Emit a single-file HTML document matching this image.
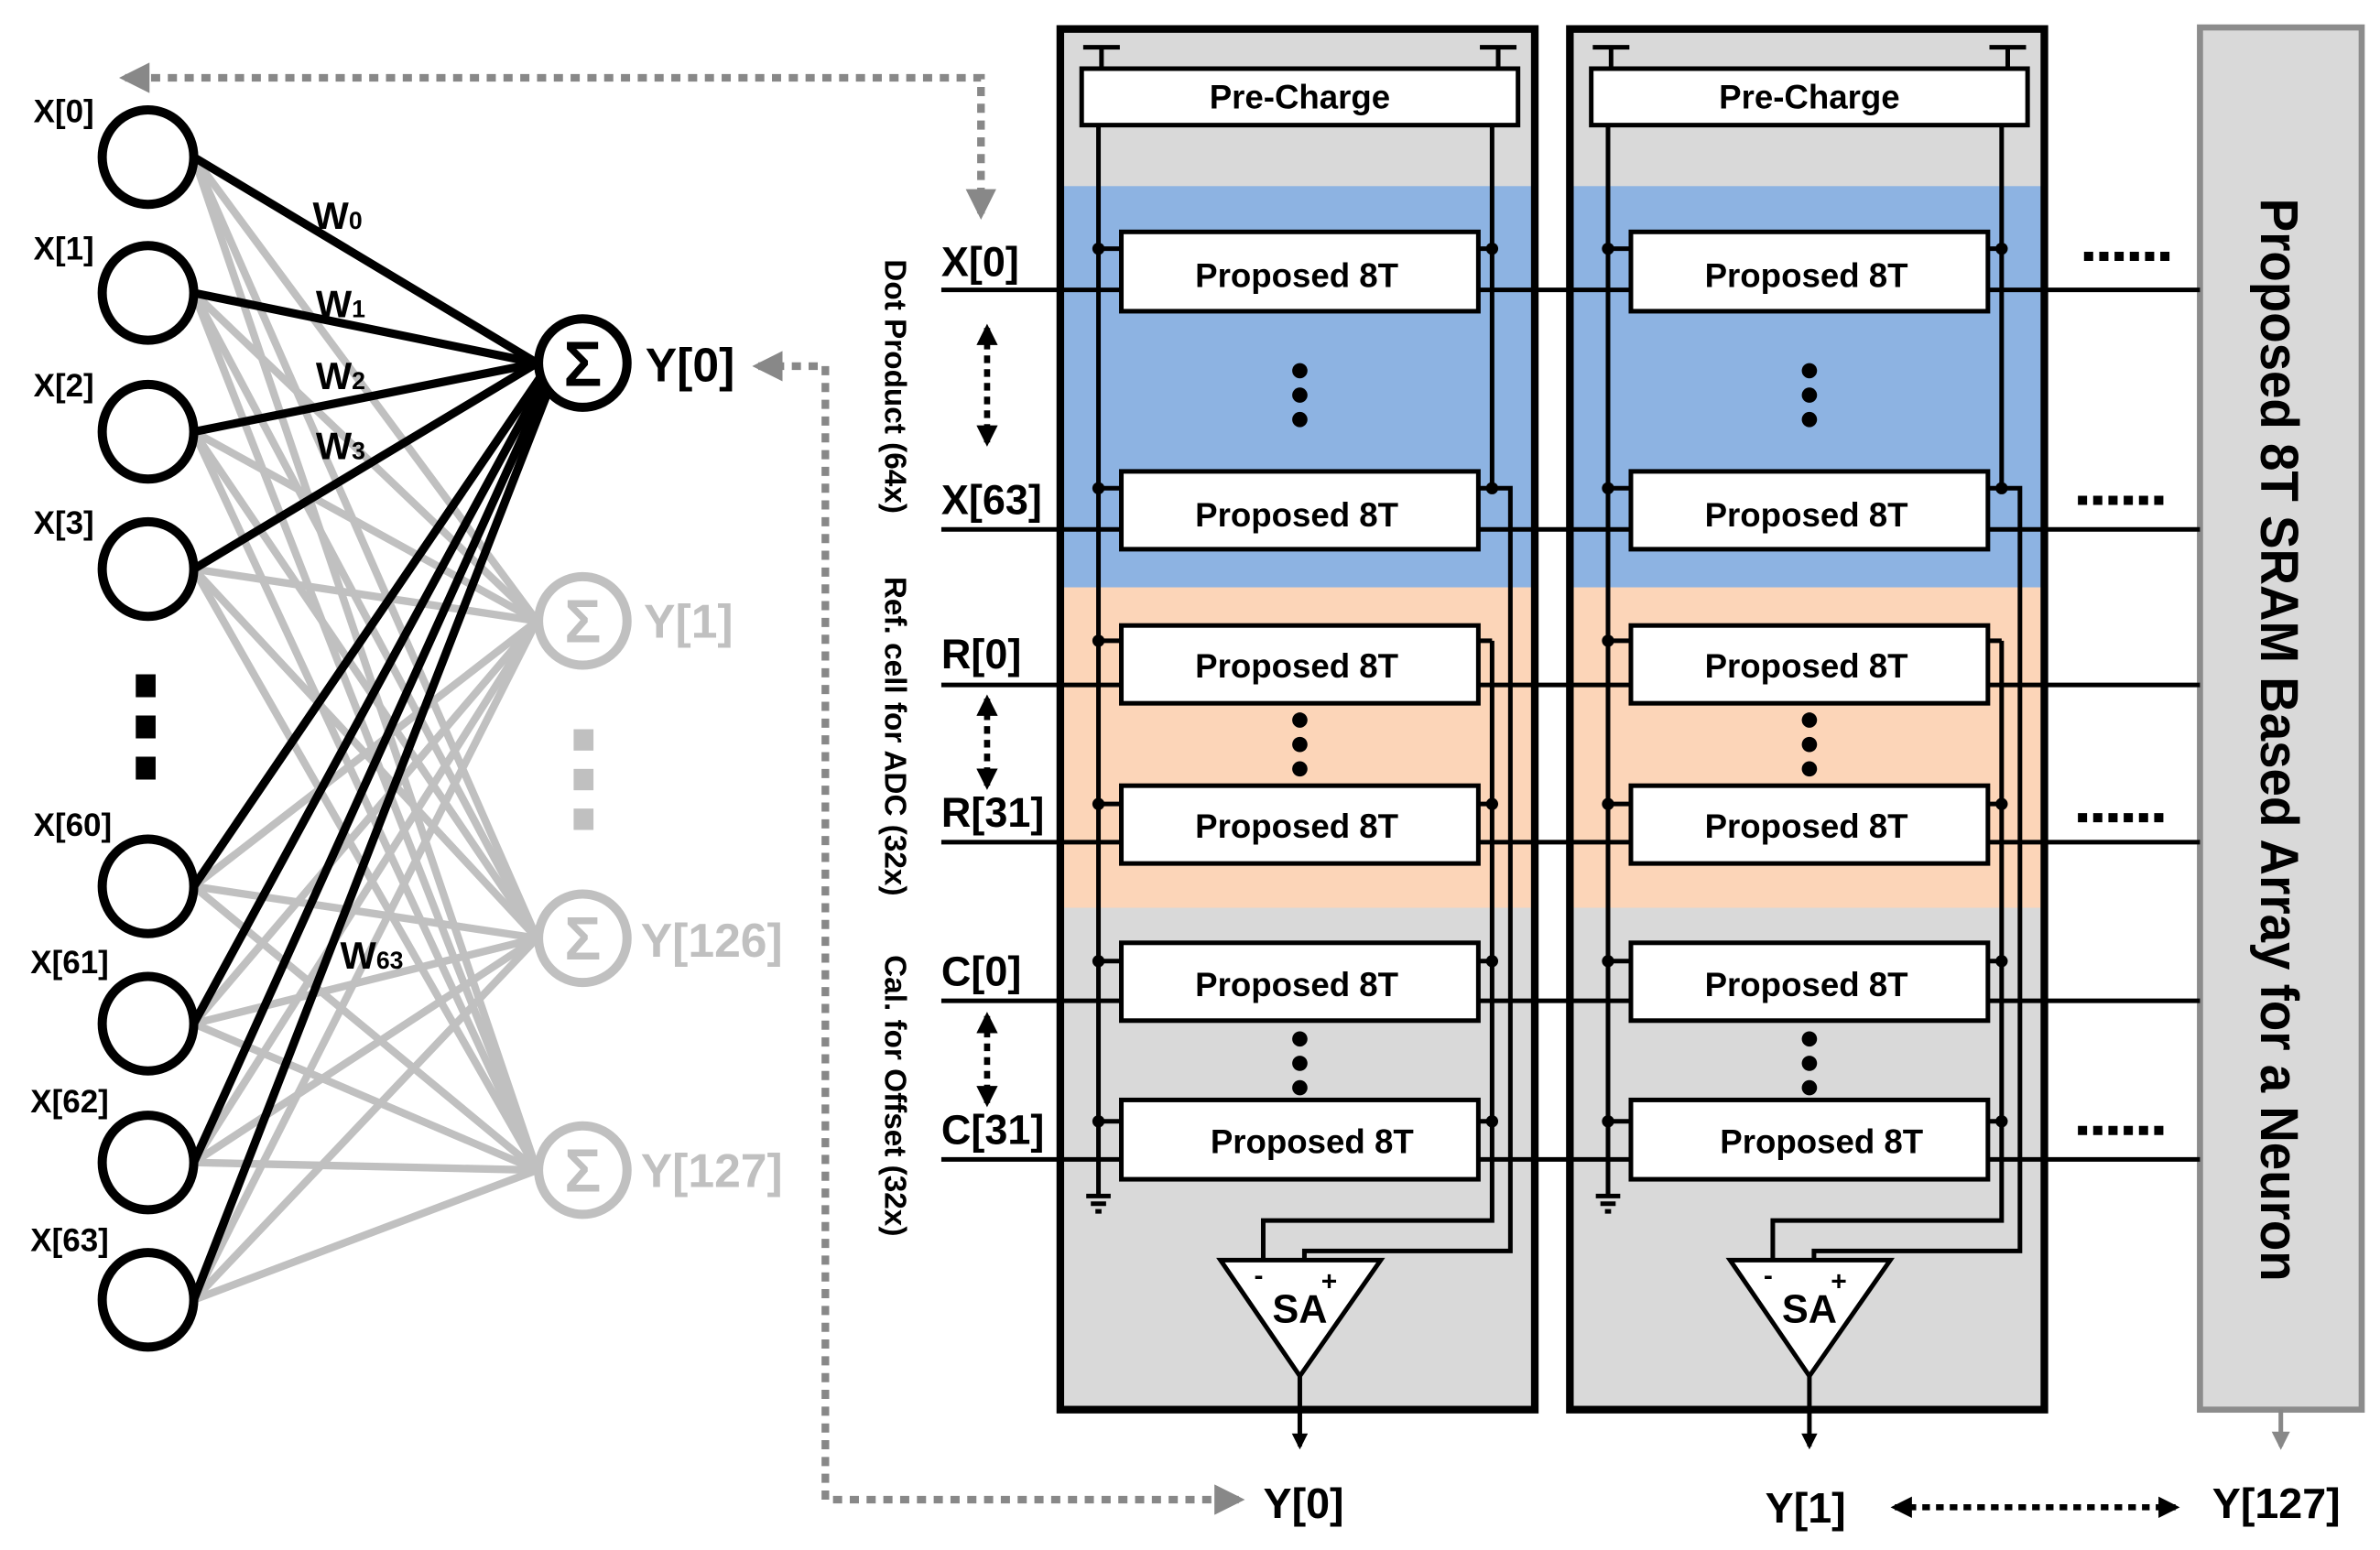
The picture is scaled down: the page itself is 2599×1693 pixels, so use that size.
<!DOCTYPE html>
<html><head><meta charset="utf-8"><style>
html,body{margin:0;padding:0;background:#fff;}
svg{display:block;}
text{font-family:"Liberation Sans Narrow","Liberation Sans",sans-serif;font-weight:bold;}
</style></head><body>
<svg width="2599" height="1693" viewBox="0 0 1560 1016" preserveAspectRatio="none" xmlns="http://www.w3.org/2000/svg">
<defs>
<marker id="ga" viewBox="0 0 10 10" refX="8" refY="5" markerWidth="4" markerHeight="4" orient="auto-start-reverse"><path d="M0,0L10,5L0,10z" fill="#888"/></marker>
<marker id="ba" viewBox="0 0 10 10" refX="8" refY="5" markerWidth="3.5" markerHeight="3.5" orient="auto-start-reverse"><path d="M0,0L10,5L0,10z" fill="#000"/></marker>
</defs>

<g stroke="#c0c0c0" stroke-width="5">
<line x1="127" y1="103" x2="352" y2="407"/><line x1="127" y1="103" x2="352" y2="615"/><line x1="127" y1="103" x2="352" y2="767"/>
<line x1="127" y1="192" x2="352" y2="407"/><line x1="127" y1="192" x2="352" y2="615"/><line x1="127" y1="192" x2="352" y2="767"/>
<line x1="127" y1="283" x2="352" y2="407"/><line x1="127" y1="283" x2="352" y2="615"/><line x1="127" y1="283" x2="352" y2="767"/>
<line x1="127" y1="373" x2="352" y2="407"/><line x1="127" y1="373" x2="352" y2="615"/><line x1="127" y1="373" x2="352" y2="767"/>
<line x1="127" y1="581" x2="352" y2="407"/><line x1="127" y1="581" x2="352" y2="615"/><line x1="127" y1="581" x2="352" y2="767"/>
<line x1="127" y1="671" x2="352" y2="407"/><line x1="127" y1="671" x2="352" y2="615"/><line x1="127" y1="671" x2="352" y2="767"/>
<line x1="127" y1="762" x2="352" y2="407"/><line x1="127" y1="762" x2="352" y2="615"/><line x1="127" y1="762" x2="352" y2="767"/>
<line x1="127" y1="852" x2="352" y2="407"/><line x1="127" y1="852" x2="352" y2="615"/><line x1="127" y1="852" x2="352" y2="767"/>
</g>
<g stroke="#000" stroke-width="5.5">
<line x1="127" y1="103" x2="352" y2="238"/><line x1="127" y1="192" x2="352" y2="238"/>
<line x1="127" y1="283" x2="352" y2="238"/><line x1="127" y1="373" x2="352" y2="238"/>
<line x1="127" y1="581" x2="355" y2="246"/><line x1="127" y1="671" x2="357" y2="248"/>
<line x1="127" y1="762" x2="359" y2="250"/><line x1="127" y1="852" x2="361" y2="252"/>
</g>
<g fill="#fff" stroke="#000" stroke-width="6">
<ellipse cx="97" cy="103" rx="30" ry="31"/><ellipse cx="97" cy="192" rx="30" ry="31"/>
<ellipse cx="97" cy="283" rx="30" ry="31"/><ellipse cx="97" cy="373" rx="30" ry="31"/>
<ellipse cx="97" cy="581" rx="30" ry="31"/><ellipse cx="97" cy="671" rx="30" ry="31"/>
<ellipse cx="97" cy="762" rx="30" ry="31"/><ellipse cx="97" cy="852" rx="30" ry="31"/>
</g>
<g font-size="21" fill="#000">
<text x="22" y="80">X[0]</text><text x="22" y="170">X[1]</text><text x="22" y="260">X[2]</text><text x="22" y="350">X[3]</text>
<text x="22" y="548">X[60]</text><text x="20" y="638">X[61]</text><text x="20" y="729">X[62]</text><text x="20" y="820">X[63]</text>
</g>
<g fill="#000"><rect x="89" y="442" width="13" height="15"/><rect x="89" y="469" width="13" height="15"/><rect x="89" y="496" width="13" height="15"/></g>
<g fill="#c0c0c0"><rect x="376" y="478" width="13" height="14"/><rect x="376" y="504" width="13" height="14"/><rect x="376" y="530" width="13" height="14"/></g>
<g font-size="25" fill="#000">
<text x="205" y="150">W<tspan font-size="16">0</tspan></text>
<text x="207" y="208">W<tspan font-size="16">1</tspan></text>
<text x="207" y="255">W<tspan font-size="16">2</tspan></text>
<text x="207" y="301">W<tspan font-size="16">3</tspan></text>
<text x="223" y="635">W<tspan font-size="16">63</tspan></text>
</g>
<circle cx="382" cy="238" r="29" fill="#fff" stroke="#000" stroke-width="6"/>
<text x="382" y="253" font-size="42" text-anchor="middle" fill="#000">Σ</text>
<text x="423" y="250" font-size="31" fill="#000">Y[0]</text>
<g fill="#fff" stroke="#c0c0c0" stroke-width="6">
<circle cx="382" cy="407" r="29"/><circle cx="382" cy="615" r="29"/><circle cx="382" cy="767" r="29"/></g>
<g font-size="40" fill="#c0c0c0" text-anchor="middle"><text x="382" y="421">Σ</text><text x="382" y="629">Σ</text><text x="382" y="781">Σ</text></g>
<g font-size="31" fill="#c0c0c0"><text x="422" y="418">Y[1]</text><text x="420" y="627">Y[126]</text><text x="420" y="778">Y[127]</text></g>

<g fill="none" stroke="#888" stroke-width="5" stroke-dasharray="6,5">
<path d="M643,140 V51 H82" marker-end="url(#ga)" marker-start="url(#ga)"/>
<path d="M497,240 H541 V983 H812" marker-start="url(#ga)" marker-end="url(#ga)"/>
</g>

<g font-size="20" fill="#000" font-family="Liberation Sans,sans-serif">
<text transform="translate(580,170) rotate(90)">Dot Product (64x)</text>
<text transform="translate(580,378) rotate(90)">Ref. cell for ADC (32x)</text>
<text transform="translate(580,626) rotate(90)">Cal. for Offset (32x)</text>
</g>
<g font-size="27" fill="#000">
<text x="617" y="181">X[0]</text><text x="617" y="337">X[63]</text>
<text x="617" y="438">R[0]</text><text x="617" y="542">R[31]</text>
<text x="617" y="646">C[0]</text><text x="617" y="750">C[31]</text>
</g>
<g stroke="#000" stroke-width="4" stroke-dasharray="5,4" fill="none">
<line x1="647" y1="215" x2="647" y2="290" marker-start="url(#ba)" marker-end="url(#ba)"/>
<line x1="647" y1="458" x2="647" y2="515" marker-start="url(#ba)" marker-end="url(#ba)"/>
<line x1="647" y1="666" x2="647" y2="723" marker-start="url(#ba)" marker-end="url(#ba)"/>
</g>

<g>
<rect x="695" y="19" width="311" height="905" fill="#d9d9d9"/>
<rect x="697" y="122" width="308" height="263" fill="#8db3e2"/>
<rect x="697" y="385" width="308" height="210" fill="#fcd5b8"/>
<rect x="695" y="19" width="311" height="905" fill="none" stroke="#000" stroke-width="5"/>
</g>
<g>
<rect x="1029" y="19" width="311" height="905" fill="#d9d9d9"/>
<rect x="1031" y="122" width="308" height="263" fill="#8db3e2"/>
<rect x="1031" y="385" width="308" height="210" fill="#fcd5b8"/>
<rect x="1029" y="19" width="311" height="905" fill="none" stroke="#000" stroke-width="5"/>
</g>
<rect x="1442" y="18" width="106" height="906" fill="#d9d9d9" stroke="#8c8c8c" stroke-width="4"/>
<text transform="translate(1482,130) rotate(90)" font-family="Liberation Sans,sans-serif" font-size="35" fill="#000" textLength="710" lengthAdjust="spacingAndGlyphs">Proposed 8T SRAM Based Array for a Neuron</text>
<line x1="1495" y1="924" x2="1495" y2="948" stroke="#888" stroke-width="3" marker-end="url(#ga)"/>

<g stroke="#000" stroke-width="3">
<line x1="617" y1="190" x2="1442" y2="190"/><line x1="617" y1="347" x2="1442" y2="347"/>
<line x1="617" y1="449" x2="1442" y2="449"/><line x1="617" y1="552" x2="1442" y2="552"/>
<line x1="617" y1="656" x2="1442" y2="656"/><line x1="617" y1="760" x2="1442" y2="760"/>
</g>
<g stroke="#000" stroke-width="6" stroke-dasharray="6,4">
<line x1="1366" y1="168" x2="1424" y2="168"/><line x1="1362" y1="328" x2="1420" y2="328"/>
<line x1="1362" y1="536" x2="1420" y2="536"/><line x1="1362" y1="741" x2="1420" y2="741"/>
</g>

<g id="c1">
<g stroke="#000" stroke-width="3" fill="none">
<path d="M710,31 H734 M722,31 V45"/><path d="M970,31 H994 M982,31 V45"/>
<line x1="720" y1="82" x2="720" y2="784"/>
<path d="M978,82 V320 H990 V820 H855 V827"/>
<path d="M978,420 V800 H828 V827"/>
<path d="M978,163 H969 M720,163 H735 M720,320 H735 M978,320 H969 M720,420 H735 M978,420 H969 M720,527 H735 M978,527 H969 M720,630 H735 M978,630 H969 M720,735 H735 M978,735 H969"/>
<path d="M712,784 H728 M715,789 H725 M718,794 H722"/>
</g>
<g fill="#000"><circle cx="720" cy="163" r="4"/><circle cx="978" cy="163" r="4"/><circle cx="720" cy="320" r="4"/><circle cx="978" cy="320" r="4"/><circle cx="720" cy="420" r="4"/><circle cx="720" cy="527" r="4"/><circle cx="978" cy="527" r="4"/><circle cx="720" cy="630" r="4"/><circle cx="978" cy="630" r="4"/><circle cx="720" cy="735" r="4"/><circle cx="978" cy="735" r="4"/></g>
<rect x="709" y="45" width="286" height="37" fill="#fff" stroke="#000" stroke-width="3"/>
<text x="852" y="71" font-size="22" text-anchor="middle" fill="#000">Pre-Charge</text>
<g fill="#fff" stroke="#000" stroke-width="3">
<rect x="735" y="152" width="234" height="52"/><rect x="735" y="309" width="234" height="51"/>
<rect x="735" y="410" width="234" height="51"/><rect x="735" y="515" width="234" height="51"/>
<rect x="735" y="618" width="234" height="51"/><rect x="735" y="721" width="234" height="52"/>
</g>
<g font-size="22" fill="#000" text-anchor="middle">
<text x="850" y="188">Proposed 8T</text><text x="850" y="345">Proposed 8T</text>
<text x="850" y="444">Proposed 8T</text><text x="850" y="549">Proposed 8T</text>
<text x="850" y="653">Proposed 8T</text><text x="860" y="756">Proposed 8T</text>
</g>
<g fill="#000"><circle cx="852" cy="243" r="5"/><circle cx="852" cy="259" r="5"/><circle cx="852" cy="275" r="5"/>
<circle cx="852" cy="472" r="5"/><circle cx="852" cy="488" r="5"/><circle cx="852" cy="504" r="5"/>
<circle cx="852" cy="681" r="5"/><circle cx="852" cy="697" r="5"/><circle cx="852" cy="713" r="5"/></g>
<path d="M800,826 H905 L852,902 Z" fill="#fff" stroke="#000" stroke-width="3"/>
<text x="852" y="867" font-size="26" text-anchor="middle" fill="#000">SA</text>
<text x="822" y="842" font-size="18" fill="#000">-</text><text x="866" y="846" font-size="18" fill="#000">+</text>
<line x1="852" y1="902" x2="852" y2="948" stroke="#000" stroke-width="3" marker-end="url(#ba)"/>
</g>
<use href="#c1" transform="translate(334,0)"/>

<g font-size="28" fill="#000">
<text x="828" y="995">Y[0]</text><text x="1157" y="998">Y[1]</text><text x="1450" y="995">Y[127]</text>
</g>
<line x1="1242" y1="988" x2="1426" y2="988" stroke="#000" stroke-width="4" stroke-dasharray="5,4" marker-start="url(#ba)" marker-end="url(#ba)"/>
</svg>
</body></html>
